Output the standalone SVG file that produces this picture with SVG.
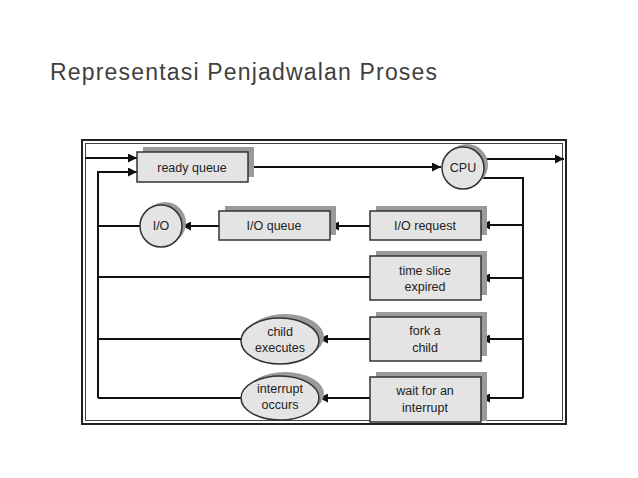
<svg xmlns="http://www.w3.org/2000/svg" width="638" height="478" viewBox="0 0 638 478">
<defs>
<marker id="ah" viewBox="0 0 10 10" refX="10" refY="5" markerWidth="9" markerHeight="9" markerUnits="userSpaceOnUse" orient="auto"><path d="M0,0 L10,5 L0,10 z" fill="#111"/></marker>
</defs>
<style>
.b{fill:#e4e4e4;stroke:#333;stroke-width:1.5}
.s{fill:#9a9a9a}
.t{font-family:"Liberation Sans",Arial,sans-serif;font-size:12.5px;fill:#222;text-anchor:middle}
.c{fill:none;stroke:#111;stroke-width:2}
</style>
<rect width="638" height="478" fill="#fff"/>
<text x="50" y="80" font-family="Liberation Sans,Arial,sans-serif" font-size="23" fill="#404040" textLength="387">Representasi Penjadwalan Proses</text>
<rect x="82" y="140" width="484" height="284" fill="none" stroke="#222" stroke-width="2"/>
<rect x="85.5" y="143.5" width="477" height="277" fill="none" stroke="#444" stroke-width="1"/>
<g id="connectors">
<line class="c" x1="85" y1="158" x2="137" y2="158" marker-end="url(#ah)"/>
<polyline class="c" points="98,398 98,172 137,172" marker-end="url(#ah)"/>
<line class="c" x1="248" y1="167" x2="441" y2="167" marker-end="url(#ah)"/>
<line class="c" x1="484" y1="159" x2="564" y2="159" marker-end="url(#ah)"/>
<polyline class="c" points="478,178 523,178 523,398"/>
<line class="c" x1="523" y1="225" x2="481" y2="225" marker-end="url(#ah)"/>
<line class="c" x1="523" y1="278" x2="481" y2="278" marker-end="url(#ah)"/>
<line class="c" x1="523" y1="339" x2="481" y2="339" marker-end="url(#ah)"/>
<line class="c" x1="523" y1="398" x2="481" y2="398" marker-end="url(#ah)"/>
<line class="c" x1="370" y1="226" x2="330" y2="226" marker-end="url(#ah)"/>
<line class="c" x1="219" y1="226" x2="182" y2="226" marker-end="url(#ah)"/>
<line class="c" x1="140" y1="226" x2="98" y2="226"/>
<line class="c" x1="370" y1="277" x2="98" y2="277"/>
<line class="c" x1="370" y1="339" x2="319" y2="339" marker-end="url(#ah)"/>
<line class="c" x1="241" y1="339" x2="98" y2="339"/>
<line class="c" x1="370" y1="398" x2="319" y2="398" marker-end="url(#ah)"/>
<line class="c" x1="241" y1="398" x2="98" y2="398"/>
</g>
<g id="ready"><rect class="s" x="143" y="147" width="111" height="30"/><rect class="b" x="137" y="152" width="111" height="30"/><text class="t" x="192" y="172">ready queue</text></g>
<g id="cpu"><circle class="s" cx="467" cy="165" r="21"/><circle class="b" cx="463" cy="168" r="21"/><text class="t" x="463" y="172">CPU</text></g>
<g id="ioreq"><rect class="s" x="376" y="206" width="111" height="29"/><rect class="b" x="370" y="211" width="111" height="29"/><text class="t" x="425" y="230">I/O request</text></g>
<g id="ioq"><rect class="s" x="225" y="206" width="111" height="29"/><rect class="b" x="219" y="211" width="111" height="29"/><text class="t" x="274" y="230">I/O queue</text></g>
<g id="io"><circle class="s" cx="165" cy="223" r="21"/><circle class="b" cx="161" cy="226" r="21"/><text class="t" x="161" y="230">I/O</text></g>
<g id="ts"><rect class="s" x="376" y="251" width="111" height="44"/><rect class="b" x="370" y="256" width="111" height="44"/><text class="t" x="425" y="275">time slice</text><text class="t" x="425" y="291">expired</text></g>
<g id="fork"><rect class="s" x="376" y="312" width="111" height="44"/><rect class="b" x="370" y="317" width="111" height="44"/><text class="t" x="425" y="335">fork a</text><text class="t" x="425" y="352">child</text></g>
<g id="childex"><ellipse class="s" cx="285" cy="337" rx="39" ry="23"/><ellipse class="b" cx="280" cy="341" rx="39" ry="23"/><text class="t" x="280" y="336">child</text><text class="t" x="280" y="352">executes</text></g>
<g id="wait"><rect class="s" x="376" y="372" width="111" height="49"/><rect class="b" x="370" y="377" width="111" height="45"/><text class="t" x="425" y="395">wait for an</text><text class="t" x="425" y="412">interrupt</text></g>
<g id="intr"><ellipse class="s" cx="285" cy="394" rx="39" ry="22"/><ellipse class="b" cx="280" cy="398" rx="39" ry="22"/><text class="t" x="280" y="393">interrupt</text><text class="t" x="280" y="409">occurs</text></g>
</svg>
